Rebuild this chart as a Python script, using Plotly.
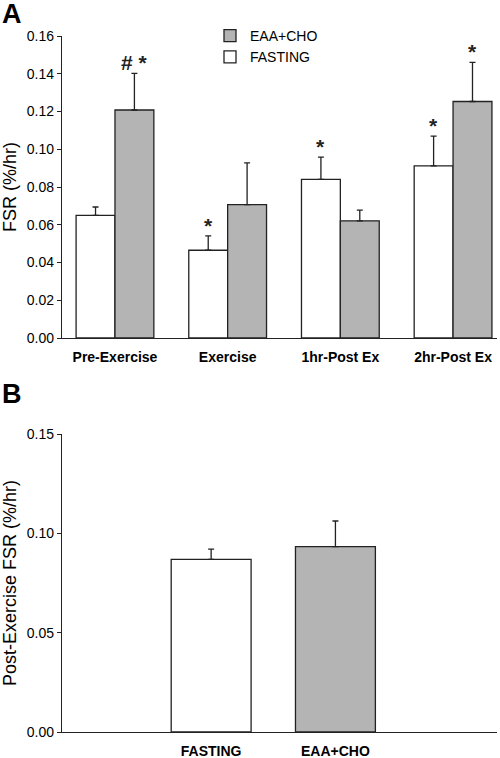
import plotly.graph_objects as go

# --- Panel A data ---
timepoints = ['Pre-Exercise', 'Exercise', '1hr-Post Ex', '2hr-Post Ex']
fasting = [0.065, 0.0465, 0.084, 0.0912]
fasting_err = [0.0044, 0.0076, 0.0118, 0.0158]
eaa_cho = [0.1208, 0.0707, 0.0621, 0.1253]
eaa_cho_err = [0.0194, 0.0221, 0.0056, 0.0207]
# significance marks (fasting, eaa) per time point
marks_fasting = ['', '*', '*', '*']
marks_eaa = ['# *', '', '', '*']

# --- Panel B data ---
groups_b = ['FASTING', 'EAA+CHO']
post_ex = [0.0869, 0.0933]
post_ex_err = [0.0052, 0.0129]

FONT = 'Liberation Sans, Arial, sans-serif'
GREY = '#b4b4b4'
INK = '#222222'

fig = go.Figure()

# Panel A bars
fig.add_trace(go.Bar(
    x=timepoints, y=fasting, name='FASTING',
    marker=dict(color='white', line=dict(color=INK, width=1.3)),
    error_y=dict(type='data', array=fasting_err, symmetric=False,
                 arrayminus=[0] * 4, color=INK, thickness=1.3, width=3),
    xaxis='x', yaxis='y'
))
fig.add_trace(go.Bar(
    x=timepoints, y=eaa_cho, name='EAA+CHO',
    marker=dict(color=GREY, line=dict(color=INK, width=1.3)),
    error_y=dict(type='data', array=eaa_cho_err, symmetric=False,
                 arrayminus=[0] * 4, color=INK, thickness=1.3, width=3),
    xaxis='x', yaxis='y'
))

# Panel B bars
fig.add_trace(go.Bar(
    x=groups_b, y=post_ex,
    marker=dict(color=['white', GREY], line=dict(color=INK, width=1.3)),
    error_y=dict(type='data', array=post_ex_err, symmetric=False,
                 arrayminus=[0] * 2, color=INK, thickness=1.3, width=3),
    showlegend=False, width=0.643,
    xaxis='x2', yaxis='y2'
))

# significance annotations
bar_half = (1 - 0.31) / 4
ann = []
for i in range(len(timepoints)):
    if marks_fasting[i]:
        ann.append(dict(x=i - bar_half, y=fasting[i] + fasting_err[i],
                        xref='x', yref='y', text=marks_fasting[i]))
    if marks_eaa[i]:
        ann.append(dict(x=i + bar_half, y=eaa_cho[i] + eaa_cho_err[i],
                        xref='x', yref='y', text=marks_eaa[i]))
for a in ann:
    a.update(showarrow=False, yanchor='bottom', yshift=-3,
             font=dict(family=FONT, size=21, color=INK, weight='bold'))

# panel letters
ann.append(dict(x=0.0, y=1.0, xref='paper', yref='paper', text='<b>A</b>',
                showarrow=False, xanchor='left', yanchor='top', yshift=3,
                font=dict(family=FONT, size=27, color='black')))
ann.append(dict(x=0.0, y=1 - 380 / 758, xref='paper', yref='paper', text='<b>B</b>',
                showarrow=False, xanchor='left', yanchor='top', yshift=3,
                font=dict(family=FONT, size=27, color='black')))

axis_common = dict(showline=True, linecolor=INK, linewidth=1.3, showgrid=False,
                   zeroline=False, automargin=False)
y_tickfont = dict(family=FONT, size=14, color='black')
x_tickfont = dict(family=FONT, size=14, color='black', weight='bold')

fig.update_layout(
    width=500, height=758,
    margin=dict(l=0, r=0, t=0, b=0),
    paper_bgcolor='white', plot_bgcolor='white',
    barmode='group', bargap=0.31, bargroupgap=0,
    font=dict(family=FONT, color='black'),
    xaxis=dict(**axis_common, domain=[0.124, 0.994], range=[-0.47, 3.39],
               ticks='', ticklabelstandoff=6, anchor='y', tickfont=x_tickfont),
    yaxis=dict(**axis_common, domain=[1 - 338 / 758, 1 - 36 / 758], range=[0, 0.16],
               dtick=0.02, tickformat='.2f', ticks='outside', ticklen=4,
               tickcolor=INK, anchor='x', tickfont=y_tickfont,
               title=dict(text='FSR (%/hr)', font=dict(family=FONT, size=18))),
    xaxis2=dict(**axis_common, domain=[0.124, 0.994], range=[-1.2, 2.3],
                ticks='', ticklabelstandoff=6, anchor='y2', tickfont=x_tickfont),
    yaxis2=dict(**axis_common, domain=[1 - 732 / 758, 1 - 434 / 758], range=[0, 0.15],
                dtick=0.05, tickformat='.2f', ticks='outside', ticklen=4,
                tickcolor=INK, anchor='x2', tickfont=y_tickfont,
                title=dict(text='Post-Exercise FSR (%/hr)', font=dict(family=FONT, size=18))),
    legend=dict(x=0.42, y=1 - 20 / 758, xanchor='left', yanchor='top',
                traceorder='reversed', bgcolor='rgba(0,0,0,0)',
                font=dict(family=FONT, size=14, color='black'),
                itemwidth=30, tracegroupgap=0),
    annotations=ann,
)

# drop the default body margin so the 500x758 figure fills the window
fig.write_html('out.html', config={'displayModeBar': False},
               post_script="document.body.style.margin='0';document.body.style.overflow='hidden';")
